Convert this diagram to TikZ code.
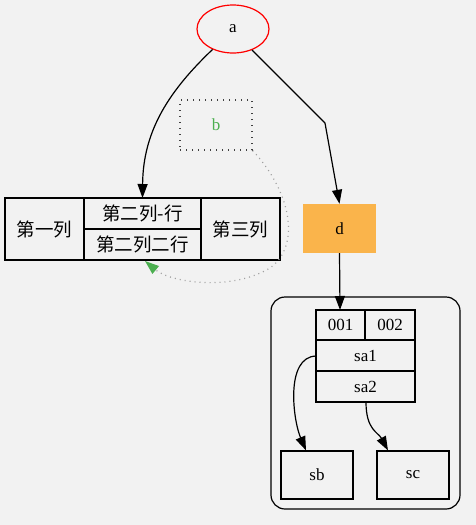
\documentclass[tikz,border=0pt]{standalone}
\usepackage{fontspec}
\setmainfont{Liberation Serif}
\newfontfamily\cjk{Noto Sans CJK SC}
\usetikzlibrary{arrows.meta,shapes.geometric}
\definecolor{bgc}{HTML}{F2F2F2}
\definecolor{dorange}{HTML}{FAB44B}
\definecolor{bgreen}{HTML}{4CAF50}
\definecolor{dotgray}{HTML}{A0A0A0}
\tikzset{
  txt/.style={font=\fontsize{17}{20}\selectfont, inner sep=0pt},
  ctxt/.style={font=\cjk\fontsize{18.5}{21}\selectfont, inner sep=0pt},
  cell/.style={draw=black, line width=1.2pt},
  edge/.style={draw=black, line width=1.2pt, -{Triangle[length=14pt,width=10pt]}},
  plain/.style={draw=black, line width=1.2pt},
  dotedge/.style={draw=dotgray, line width=1.2pt, dash pattern=on 1pt off 4pt, -{Triangle[length=14pt,width=10pt,color=bgreen]}},
}
\begin{document}
\begin{tikzpicture}[x=1pt,y=-1pt]
\useasboundingbox (0,0) rectangle (476,525);
\fill[bgc] (0,0) rectangle (476,525);

% node a
\node[draw=red, line width=1.2pt, ellipse, minimum width=72pt, minimum height=48pt, txt] (a) at (233,29) {a};

% node b
\node[draw=black!75, line width=1.3pt, dash pattern=on 1pt off 5pt, minimum width=72pt, minimum height=50pt, txt, text=bgreen] (b) at (216,125) {b};

% invisible node c
\coordinate (c) at (325,123);

% table record
\draw[cell] (5,198) rectangle (280,260);
\draw[cell] (84,198) -- (84,260) (201,198) -- (201,260) (84,229) -- (201,229);
\node[ctxt] (t1) at (44.5,229) {第一列};
\node[ctxt] (t2a) at (142.5,213.5) {第二列-行};
\node[ctxt] (t2b) at (142.5,244.5) {第二列二行};
\node[ctxt] (t3) at (240.5,229) {第三列};
\coordinate (t2top) at (142.5,198);
\coordinate (t2bot) at (145,261);

% node d
\node[fill=dorange, minimum width=73pt, minimum height=49pt, txt] (d) at (339.5,228.5) {d};

% cluster
\draw[plain, rounded corners=14pt] (271,297) rectangle (460,509);

% record s
\draw[cell] (316,310) rectangle (415,402);
\draw[cell] (365,310) -- (365,340) (316,340) -- (415,340) (316,371) -- (415,371);
\node[txt] (s1) at (340.5,325) {001};
\node[txt] (s2) at (390,325) {002};
\node[txt] (sa1) at (365.5,355.5) {sa1};
\node[txt] (sa2) at (365.5,386.5) {sa2};
\coordinate (stop) at (340,310);
\coordinate (sa1w) at (316,356);
\coordinate (sa2s) at (366,402);

% sb, sc
\node[cell, minimum width=72pt, minimum height=48pt, txt] (sb) at (317,475) {sb};
\node[cell, minimum width=72pt, minimum height=48pt, txt] (sc) at (413,475) {sc};

% edges
\draw[edge] (a.225) .. controls (170,90) and (143,130) .. (t2top);
\draw[plain] (a.-48) -- (c);
\draw[edge] (c) -- (d.north);
\draw[edge] (d.south) -- (stop);
\draw[edge] (sa1w) .. controls (285,357) and (293,420) .. (sb.north -| 306,0);
\draw[edge] (sa2s) .. controls (366,430) and (378,432) .. (sc.north -| 388,0);
\draw[dotedge] (b.south east) .. controls (290,190) and (302,245) .. (270,268)
   .. controls (230,292) and (170,282) .. (t2bot);
\end{tikzpicture}
\end{document}
